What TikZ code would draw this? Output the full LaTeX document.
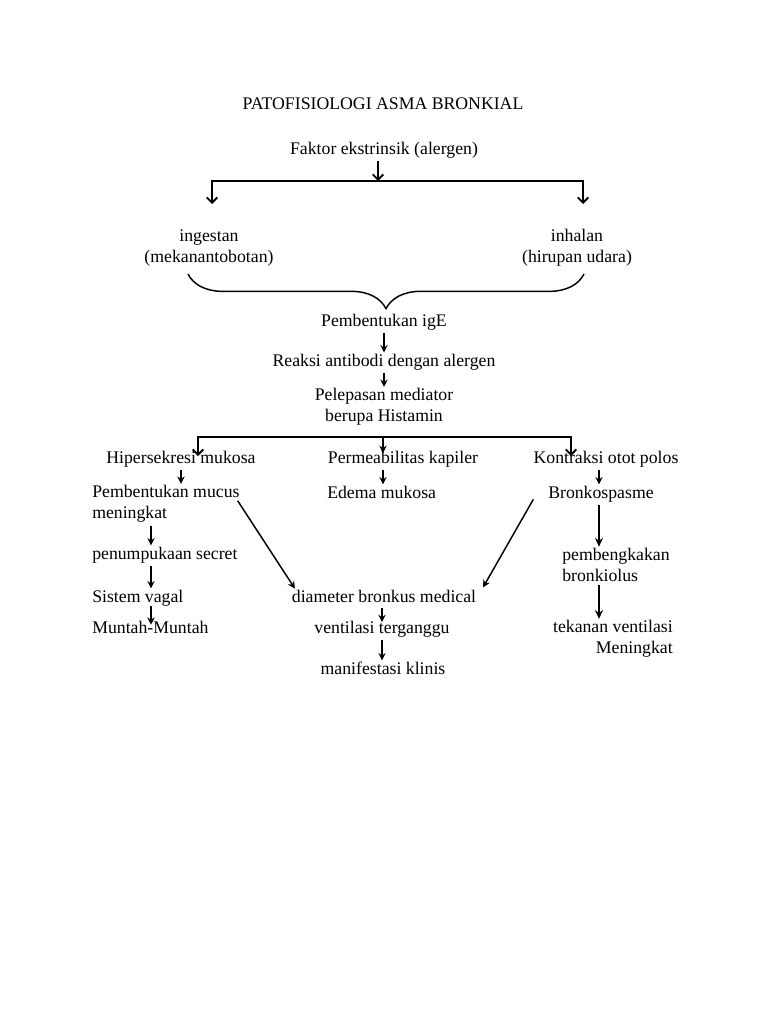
\documentclass[tikz,border=0pt]{standalone}
\usepackage{fontspec}
\setmainfont{Liberation Serif}
\usetikzlibrary{arrows.meta,decorations.pathreplacing}

\begin{document}
\begin{tikzpicture}[x=0.75pt, y=-0.75pt,
    every node/.style={inner sep=0pt, yshift=-1.5pt, font=\fontsize{13.3}{15.75}\selectfont},
    ln/.style={text height=9pt, text depth=3pt},
    arr/.style={line width=1.3pt, -{Stealth[length=5.5pt,width=5.5pt]}, shorten <=2pt, shorten >=1pt},
    thk/.style={line width=1.9pt, -{Stealth[length=6.5pt,width=6pt]}, shorten <=2pt, shorten >=1pt},
    fork/.style={line width=1.4pt, {Straight Barb[length=4pt,width=8pt]}-{Straight Barb[length=4pt,width=8pt]}}]

  % Bounding box of the scheme
  \useasboundingbox (0,0) rectangle (768,1024);
  \fill[white] (0,0) rectangle (768,1024);

  %%%%%%%%%%%%%%%%%%%%%%%%%%%%%%%%% Top of the scheme %%%%%%%%%%%%%%%%%%%%%%%%%%%%%%%%%%%%
  \draw (383,103) node[ln] (Tit) {PATOFISIOLOGI ASMA BRONKIAL} ;
  \draw (384,148) node[ln] (Fak) {Faktor ekstrinsik (alergen)} ;
  \draw (209,246) node[align=center] (Ing) {ingestan\\(mekanantobotan)} ;
  \draw (577,246) node[align=center] (Inh) {inhalan\\(hirupan udara)} ;

  \coordinate (Tx) at (378,179) ;
  \coordinate (BrL) at (212,179) ;
  \coordinate (BrR) at (583,179) ;
  \coordinate (TipL) at (212,202) ;
  \coordinate (TipR) at (583,202) ;
  \draw[line width=1.4pt, -{Straight Barb[length=4pt,width=8pt]}, shorten <=2pt] (Fak.south -| Tx) -- (Tx) ;
  \draw[fork] (TipL) -- (BrL) -- (BrR) -- (TipR) ;

  % brace joining both sources
  \coordinate (BcR) at (584,272) ;
  \coordinate (BcL) at (188,272) ;
  \draw[line width=1.1pt, decorate, decoration={brace, amplitude=26pt}] (BcR) -- (BcL) ;

  \draw (384,320) node[ln] (Ige) {Pembentukan igE} ;
  \draw (384,360) node[ln] (Rea) {Reaksi antibodi dengan alergen} ;
  \draw (384,405) node[align=center] (Pel) {Pelepasan mediator\\berupa Histamin} ;

  \coordinate (Cm) at (384,0) ;
  \draw[arr] (Ige.south -| Cm) -- (Rea.north -| Cm) ;
  \draw[arr] (Rea.south -| Cm) -- (Pel.north -| Cm) ;

  %%%%%%%%%%%%%%%%%%%%%%%%%%%%%%%%% Three branches %%%%%%%%%%%%%%%%%%%%%%%%%%%%%%%%%%%%
  \coordinate (HL) at (198,435) ;
  \coordinate (HM) at (383,435) ;
  \coordinate (HR) at (571,435) ;
  \coordinate (HTipL) at (198,454) ;
  \coordinate (HTipM) at (383,451) ;
  \coordinate (HTipR) at (571,454) ;
  \draw[fork] (HTipL) -- (HL) -- (HR) -- (HTipR) ;
  \draw[line width=1.3pt, -{Stealth[length=5.5pt,width=5.5pt]}] (HM) -- (HTipM) ;

  \draw (181,457) node[ln] (Hip) {Hipersekresi mukosa} ;
  \draw (403,457) node[ln] (Per) {Permeabilitas kapiler} ;
  \draw (606,457) node[ln] (Kon) {Kontraksi otot polos} ;

  % left column
  \draw (92,502) node[anchor=west, align=left] (Muc) {Pembentukan mucus\\meningkat} ;
  \draw (92,553) node[ln, anchor=west] (Pen) {penumpukaan secret} ;
  \draw (92,596) node[ln, anchor=west] (Sis) {Sistem vagal} ;
  \draw (92,627) node[ln, anchor=west] (Mun) {Muntah-Muntah} ;

  \coordinate (Ch) at (181,0) ;
  \coordinate (Cl) at (151,0) ;
  \draw[arr] (Hip.south -| Ch) -- (Muc.north -| Ch) ;
  \draw[arr] (Muc.south -| Cl) -- (Pen.north -| Cl) ;
  \draw[arr] (Pen.south -| Cl) -- (Sis.north -| Cl) ;
  \draw[arr, shorten <=0pt, shorten >=-3pt] (Sis.south -| Cl) -- (Mun.north -| Cl) ;

  % middle column
  \draw (327,492) node[ln, anchor=west] (Ede) {Edema mukosa} ;
  \draw (384,596) node[ln] (Dia) {diameter bronkus medical} ;
  \draw (382,627) node[ln] (Ven) {ventilasi terganggu} ;
  \draw (383,668) node[ln] (Man) {manifestasi klinis} ;

  \coordinate (Cv) at (382,0) ;
  \draw[arr] (Per.south -| HM) -- (Ede.north -| HM) ;
  \draw[arr, shorten <=1pt, shorten >=-1pt] (Dia.south -| Cv) -- (Ven.north -| Cv) ;
  \draw[arr] (Ven.south -| Cv) -- (Man.north -| Cv) ;

  % right column
  \draw (548,492) node[ln, anchor=west] (Bro) {Bronkospasme} ;
  \draw (562,563) node[anchor=west, align=left] (Pem) {pembengkakan\\bronkiolus} ;
  \draw (673,637) node[anchor=east, align=right] (Tek) {tekanan ventilasi\\Meningkat} ;

  \coordinate (Ck) at (599,0) ;
  \draw[arr] (Kon.south -| Ck) -- (Bro.north -| Ck) ;
  \draw[thk] (Bro.south -| Ck) -- (Pem.north -| Ck) ;
  \draw[thk] (Pem.south -| Ck) -- (Tek.north -| Ck) ;

  %%%%%%%%%%%%%%%%%%%%%%%%%%%%%%%%% Diagonals into the bronchus %%%%%%%%%%%%%%%%%%%%%%%%%%%%%%%%%%%%
  \draw[arr, line width=1.1pt, shorten <=-3pt, shorten >=1pt] (Muc.east) -- ([xshift=3pt]Dia.north west) ;
  \draw[arr, line width=1.1pt, shorten <=0pt, shorten >=2pt] ([xshift=-11pt,yshift=-4pt]Bro.west) -- ([xshift=4pt]Dia.north east) ;

\end{tikzpicture}
\end{document}
